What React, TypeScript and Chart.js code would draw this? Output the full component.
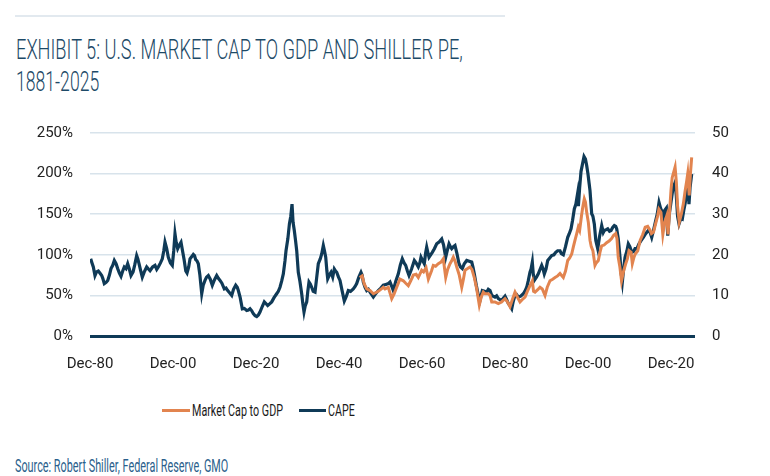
import React, { useEffect, useLayoutEffect, useRef, useState } from "react";
import { Chart, registerables } from "chart.js";

Chart.register(...registerables);

// ---- DATA ----
const xTickYears = [1880.92, 1900.92, 1920.92, 1940.92, 1960.92, 1980.92, 2000.92, 2020.92];
const xTickLabels = ["Dec-80", "Dec-00", "Dec-20", "Dec-40", "Dec-60", "Dec-80", "Dec-00", "Dec-20"];

const capeYears = [
  1881.08, 1881.4, 1881.72, 1882.12, 1882.5, 1882.92, 1883.3, 1883.74, 1884.0, 1884.37, 1884.8, 1885.19, 1885.6, 1885.98,
  1886.4, 1886.78, 1887.2, 1887.59, 1888.0, 1888.39, 1888.8, 1889.18, 1889.6, 1890.0, 1890.4, 1890.8, 1891.3, 1891.7,
  1892.17, 1892.45, 1892.73, 1893.1, 1893.52, 1894.0, 1894.58, 1895.0, 1895.38, 1896.0, 1896.58, 1897.0, 1897.38, 1897.9,
  1898.34, 1898.7, 1898.99, 1899.4, 1899.79, 1900.3, 1900.75, 1901.1, 1901.4, 1901.7, 1902.05, 1902.5, 1902.85, 1903.3,
  1903.6, 1904.0, 1904.3, 1904.7, 1905.02, 1905.4, 1905.81, 1906.1, 1906.39, 1906.7, 1907.02, 1907.4, 1907.84, 1908.2,
  1908.63, 1909.0, 1909.43, 1909.9, 1910.39, 1910.9, 1911.45, 1911.85, 1912.25, 1912.7, 1913.28, 1913.7, 1914.1, 1914.6,
  1915.07, 1915.5, 1916.03, 1916.4, 1916.66, 1917.1, 1917.62, 1918.1, 1918.68, 1919.1, 1919.48, 1919.9, 1920.27, 1920.7,
  1921.09, 1921.5, 1921.88, 1922.4, 1922.92, 1923.3, 1923.74, 1924.2, 1924.7, 1925.3, 1925.9, 1926.3, 1926.7, 1927.1,
  1927.5, 1927.9, 1928.15, 1928.6, 1928.97, 1929.3, 1929.6, 1929.85, 1930.15, 1930.45, 1930.73, 1931.11, 1931.5, 1931.93,
  1932.2, 1932.49, 1932.8, 1933.14, 1933.4, 1933.69, 1934.0, 1934.34, 1934.7, 1935.14, 1935.5, 1935.93, 1936.4, 1936.75,
  1937.14, 1937.42, 1937.72, 1938.0, 1938.2, 1938.6, 1939.0, 1939.4, 1939.79, 1940.1, 1940.37, 1940.8, 1941.16, 1941.7,
  1942.2, 1942.7, 1943.16, 1943.7, 1944.36, 1944.8, 1945.18, 1945.7, 1946.22, 1946.5, 1946.78, 1947.2, 1947.6, 1948.0,
  1948.39, 1948.8, 1949.19, 1949.8, 1950.39, 1951.0, 1951.59, 1952.2, 1952.8, 1953.21, 1953.6, 1954.0, 1954.6, 1955.21,
  1955.7, 1956.17, 1956.6, 1956.99, 1957.4, 1957.79, 1958.4, 1959.07, 1959.5, 1960.03, 1960.4, 1960.68, 1961.1, 1961.47,
  1961.8, 1962.05, 1962.35, 1962.61, 1963.0, 1963.4, 1963.9, 1964.46, 1965.1, 1965.67, 1966.1, 1966.63, 1967.0, 1967.43,
  1967.75, 1968.08, 1968.5, 1968.87, 1969.3, 1969.84, 1970.2, 1970.63, 1971.1, 1971.69, 1972.3, 1972.9, 1973.2, 1973.52,
  1974.0, 1974.49, 1974.9, 1975.45, 1976.0, 1976.51, 1976.9, 1977.31, 1977.72, 1978.1, 1978.51, 1978.9, 1979.31, 1979.7,
  1980.13, 1980.5, 1980.92, 1981.3, 1981.72, 1982.1, 1982.54, 1982.9, 1983.33, 1983.7, 1984.13, 1984.7, 1985.33, 1985.7,
  1986.15, 1986.5, 1986.94, 1987.2, 1987.5, 1987.75, 1987.98, 1988.5, 1988.94, 1989.4, 1989.76, 1990.1, 1990.39, 1990.8,
  1991.21, 1991.7, 1992.17, 1992.7, 1993.14, 1993.6, 1994.17, 1994.5, 1994.97, 1995.5, 1996.03, 1996.4, 1996.83, 1997.2,
  1997.62, 1998.0, 1998.4, 1998.6, 1998.9, 1999.23, 1999.6, 1999.96, 2000.3, 2000.6, 2000.9, 2001.2, 2001.4, 2001.81,
  2002.1, 2002.44, 2002.8, 2003.26, 2003.7, 2004.22, 2004.6, 2004.85, 2005.3, 2005.67, 2006.1, 2006.46, 2006.9, 2007.26,
  2007.6, 2007.84, 2008.2, 2008.63, 2008.9, 2009.19, 2009.5, 2009.84, 2010.3, 2010.63, 2011.0, 2011.45, 2011.9, 2012.25,
  2012.7, 2013.21, 2013.7, 2014.25, 2014.8, 2015.45, 2015.9, 2016.27, 2016.7, 2017.23, 2017.6, 2018.03, 2018.4, 2018.68,
  2018.95, 2019.31, 2019.8, 2020.13, 2020.5, 2020.92, 2021.4, 2021.89, 2022.2, 2022.5, 2022.85, 2023.3, 2023.64, 2024.0,
  2024.3, 2024.6, 2024.94, 2025.1, 2025.25, 2025.5, 2025.9,
];
const capeValues = [
  19.0, 18.0, 17.0, 14.9, 15.8, 16.0, 15.5, 14.9, 14.2, 12.9, 13.2, 13.7, 15.0, 16.6,
  17.4, 18.6, 17.8, 16.6, 15.5, 14.7, 16.0, 17.0, 16.6, 17.8, 16.5, 14.9, 15.8, 17.5,
  19.8, 19.0, 17.8, 16.2, 14.5, 15.8, 17.0, 16.5, 16.1, 17.0, 17.4, 16.4, 17.0, 18.0,
  19.0, 21.0, 23.1, 21.5, 19.4, 18.0, 17.4, 21.0, 25.2, 23.0, 21.5, 22.5, 23.1, 20.5,
  18.8, 16.0, 15.5, 17.0, 19.0, 19.5, 20.1, 19.8, 18.8, 18.5, 17.8, 15.0, 10.4, 12.5,
  13.7, 14.5, 14.9, 14.0, 12.5, 13.8, 14.9, 14.2, 13.7, 13.0, 11.6, 11.8, 11.2, 10.6,
  10.0, 11.5, 12.5, 12.0, 11.2, 9.5, 6.7, 6.8, 6.3, 6.4, 6.7, 6.2, 5.5, 5.0,
  4.8, 5.2, 5.9, 7.2, 8.4, 8.0, 7.5, 7.9, 8.4, 9.5, 10.4, 11.0, 12.0, 13.5,
  15.3, 18.5, 21.0, 24.0, 27.6, 29.5, 32.5, 28.0, 26.0, 23.5, 21.0, 15.7, 13.5, 10.4,
  8.0, 5.9, 7.5, 8.4, 11.0, 13.3, 12.8, 12.0, 11.0, 10.8, 14.0, 17.8, 19.0, 20.2,
  22.3, 21.0, 19.4, 16.0, 14.1, 15.0, 15.7, 14.5, 16.5, 16.0, 15.7, 14.5, 13.7, 11.0,
  8.6, 9.8, 11.2, 11.0, 11.6, 12.2, 12.9, 14.5, 15.7, 15.0, 13.3, 12.0, 11.2, 11.5,
  10.8, 10.2, 9.6, 10.5, 11.2, 11.8, 12.5, 12.7, 12.9, 13.3, 12.3, 11.2, 13.5, 15.3,
  17.5, 19.0, 18.0, 17.4, 16.0, 14.9, 16.5, 18.6, 18.0, 17.0, 18.0, 19.4, 18.5, 17.8,
  20.5, 21.9, 20.5, 19.4, 20.0, 20.6, 21.5, 22.7, 23.2, 23.9, 22.5, 19.4, 21.0, 22.7,
  22.0, 21.5, 22.0, 22.3, 20.5, 17.8, 17.0, 16.6, 17.8, 18.6, 18.4, 18.2, 17.0, 15.3,
  12.5, 10.0, 8.8, 11.2, 11.0, 10.8, 11.5, 11.2, 10.0, 9.8, 9.6, 9.9, 9.2, 9.0,
  8.8, 9.3, 9.8, 9.0, 8.0, 7.5, 6.7, 8.5, 10.0, 10.2, 9.6, 9.8, 10.4, 11.0,
  12.0, 13.5, 15.7, 16.5, 18.2, 15.0, 13.7, 14.5, 15.3, 16.5, 17.4, 16.5, 15.3, 16.5,
  18.6, 19.2, 19.8, 20.0, 20.6, 21.0, 21.0, 20.3, 20.0, 22.0, 24.3, 25.2, 26.4, 28.5,
  31.3, 32.5, 35.0, 32.0, 36.5, 40.5, 42.4, 44.2, 43.6, 42.0, 40.0, 37.5, 35.8, 30.1,
  29.5, 27.6, 23.5, 21.5, 24.5, 27.2, 25.5, 26.0, 26.2, 26.4, 25.8, 26.0, 26.8, 27.2,
  27.0, 26.4, 24.0, 19.4, 15.5, 13.3, 16.5, 19.4, 21.0, 22.7, 22.0, 20.6, 20.8, 21.5,
  21.5, 22.7, 23.5, 24.3, 25.2, 26.0, 25.5, 24.3, 26.0, 28.4, 30.0, 32.9, 31.5, 30.8,
  28.5, 30.8, 31.5, 24.7, 30.0, 33.0, 36.5, 37.8, 34.5, 29.5, 27.6, 29.0, 28.8, 31.0,
  32.5, 34.5, 37.0, 35.5, 32.5, 36.5, 39.9,
];

const mcapYears = [
  1945.92, 1946.5, 1947.0, 1947.6, 1948.4, 1949.2, 1950.4, 1951.6, 1952.0, 1952.8, 1953.62, 1954.2, 1954.82, 1955.6,
  1956.42, 1957.0, 1957.62, 1958.2, 1958.83, 1959.5, 1960.03, 1960.85, 1961.3, 1961.9, 1962.45, 1963.2, 1963.64, 1964.2,
  1964.85, 1965.5, 1966.05, 1966.63, 1967.1, 1967.67, 1968.1, 1968.47, 1968.9, 1969.29, 1969.9, 1970.49, 1970.9, 1971.28,
  1971.9, 1972.49, 1972.95, 1973.52, 1974.1, 1974.73, 1975.2, 1975.7, 1976.1, 1976.9, 1977.3, 1977.72, 1978.5, 1979.31,
  1980.1, 1980.92, 1981.5, 1982.12, 1982.7, 1983.33, 1983.9, 1984.53, 1985.1, 1985.74, 1986.3, 1986.94, 1987.5, 1987.8,
  1988.15, 1988.8, 1989.35, 1989.9, 1990.56, 1991.1, 1991.76, 1992.4, 1992.97, 1993.6, 1994.17, 1994.97, 1995.5, 1996.03,
  1996.5, 1996.99, 1997.4, 1997.79, 1998.2, 1998.58, 1998.9, 1999.4, 1999.7, 2000.03, 2000.3, 2000.61, 2001.0, 2001.4,
  2001.7, 2002.1, 2002.6, 2002.9, 2003.4, 2003.8, 2004.2, 2004.8, 2005.4, 2006.0, 2006.6, 2007.1, 2007.6, 2007.9,
  2008.2, 2008.6, 2009.0, 2009.5, 2010.0, 2010.4, 2010.8, 2011.3, 2011.6, 2012.0, 2012.3, 2012.9, 2013.5, 2014.1,
  2014.7, 2015.3, 2015.9, 2016.2, 2016.7, 2017.2, 2017.7, 2018.0, 2018.5, 2018.95, 2019.4, 2019.9, 2020.2, 2020.6,
  2020.92, 2021.2, 2021.9, 2022.2, 2022.5, 2022.9, 2023.4, 2023.9, 2024.3, 2024.7, 2024.95, 2025.3, 2025.6, 2025.9,
];
const mcapValues = [
  72, 74, 64, 58, 56, 52, 55, 60, 58, 60, 46, 52, 60, 70,
  68, 65, 62, 68, 75, 76, 72, 81, 79, 84, 70, 80, 87, 86,
  89, 91, 95, 72, 82, 89, 93, 97, 92, 85, 75, 60, 70, 81,
  83, 85, 82, 72, 58, 38, 48, 54, 52, 52, 50, 42, 42, 40,
  42, 46, 42, 36, 45, 54, 48, 42, 45, 48, 55, 62, 68, 55,
  54, 57, 60, 58, 50, 60, 68, 70, 72, 74, 77, 72, 80, 93,
  96, 101, 110, 118, 126, 134, 130, 150, 160, 169, 165, 152, 140, 118,
  110, 105, 87, 90, 93, 103, 111, 112, 115, 117, 120, 124, 126, 120,
  97, 85, 68, 80, 89, 95, 105, 103, 89, 97, 101, 105, 118, 125,
  134, 135, 130, 126, 128, 138, 148, 156, 152, 125, 140, 148, 125, 155,
  180, 195, 208, 190, 160, 140, 150, 163, 178, 191, 200, 173, 200, 220,
];

const legendItems = [
  { label: "Market Cap to GDP", color: "#e2844f" },
  { label: "CAPE", color: "#0f3a57" },
];

const ORANGE = "#e2844f";
const NAVY = "#0f3a57";

function FitText(props: { text: string; width: number; style: React.CSSProperties }) {
  const ref = useRef<HTMLSpanElement>(null);
  const [scale, setScale] = useState(1);
  useLayoutEffect(() => {
    const measure = () => {
      const el = ref.current;
      if (el && el.offsetWidth > 0) setScale(props.width / el.offsetWidth);
    };
    measure();
    if ((document as any).fonts && (document as any).fonts.ready) {
      (document as any).fonts.ready.then(measure);
    }
  }, [props.text, props.width]);
  return (
    <span
      ref={ref}
      style={{
        position: "absolute",
        display: "inline-block",
        whiteSpace: "nowrap",
        transform: `scaleX(${scale})`,
        transformOrigin: "left center",
        ...props.style,
      }}
    >
      {props.text}
    </span>
  );
}

export default function App() {
  const canvasRef = useRef<HTMLCanvasElement>(null);

  useEffect(() => {
    document.body.style.margin = "0";
    const ctx = canvasRef.current!.getContext("2d")!;
    const tickFont = { family: "Roboto", size: 15 };
    const chart = new Chart(ctx, {
      type: "line",
      data: {
        datasets: [
          {
            label: "Market Cap to GDP",
            data: mcapYears.map((x, i) => ({ x, y: mcapValues[i] })),
            yAxisID: "yL",
            borderColor: ORANGE,
            borderWidth: 3,
            pointRadius: 0,
            tension: 0,
            fill: false,
          },
          {
            label: "CAPE",
            data: capeYears.map((x, i) => ({ x, y: capeValues[i] })),
            yAxisID: "yR",
            borderColor: NAVY,
            borderWidth: 3.2,
            pointRadius: 0,
            tension: 0,
            fill: false,
          },
        ],
      },
      options: {
        animation: false,
        responsive: false,
        maintainAspectRatio: false,
        layout: { padding: { top: 12, left: 0, right: 0, bottom: 0 } },
        plugins: { legend: { display: false }, tooltip: { enabled: false } },
        scales: {
          x: {
            type: "linear",
            min: 1880.92,
            max: 2026.7,
            grid: { display: false },
            border: { display: false },
            afterBuildTicks: (scale: any) => {
              scale.ticks = xTickYears.map((v) => ({ value: v }));
            },
            afterFit: (scale: any) => {
              scale.height = 34;
            },
            ticks: {
              autoSkip: false,
              maxRotation: 0,
              padding: 11,
              color: "#222",
              font: tickFont,
              callback: (_v: any, i: number) => xTickLabels[i],
            },
          },
          yL: {
            type: "linear",
            position: "left",
            min: 0,
            max: 250,
            border: { display: false },
            grid: {
              drawTicks: false,
              color: (c: any) => (c.tick && c.tick.value === 0 ? NAVY : "#d8e3eb"),
              lineWidth: (c: any) => (c.tick && c.tick.value === 0 ? 3 : 1.5),
            },
            afterFit: (scale: any) => {
              scale.width = 90;
            },
            ticks: {
              stepSize: 50,
              padding: 17,
              color: "#222",
              font: tickFont,
              callback: (v: any) => v + "%",
            },
          },
          yR: {
            type: "linear",
            position: "right",
            min: 0,
            max: 50,
            border: { display: false },
            grid: { display: false, drawTicks: false },
            afterFit: (scale: any) => {
              scale.width = 75;
            },
            ticks: {
              stepSize: 10,
              padding: 17,
              color: "#222",
              font: tickFont,
            },
          },
        },
      },
    } as any);
    return () => chart.destroy();
  }, []);

  const titleStyle: React.CSSProperties = {
    fontFamily: "Roboto",
    fontWeight: 300,
    fontSize: "28px",
    lineHeight: "28px",
    color: "#1d4a67",
    left: "16px",
  };
  const legendText: React.CSSProperties = {
    fontFamily: "Roboto",
    fontSize: "17px",
    lineHeight: "17px",
    color: "#1a1a1a",
    top: "401.5px",
  };

  return (
    <div style={{ position: "absolute", left: 0, top: 0, width: 770, height: 476, background: "#fff", overflow: "hidden" }}>
      <div style={{ position: "absolute", left: 15, top: 15, width: 490, height: 2, background: "#e2e9ef" }} />
      <FitText text="EXHIBIT 5: U.S. MARKET CAP TO GDP AND SHILLER PE," width={447} style={{ ...titleStyle, top: "35.7px" }} />
      <FitText text="1881-2025" width={83} style={{ ...titleStyle, top: "68px" }} />
      <canvas ref={canvasRef} width={770} height={263} style={{ position: "absolute", left: 0, top: 107, width: 770, height: 263 }} />
      <div style={{ position: "absolute", left: 162, top: 409, width: 28, height: 3, background: legendItems[0].color }} />
      <FitText text={legendItems[0].label} width={91} style={{ ...legendText, left: "192px" }} />
      <div style={{ position: "absolute", left: 299, top: 409, width: 27, height: 3, background: legendItems[1].color }} />
      <FitText text={legendItems[1].label} width={27} style={{ ...legendText, left: "328px" }} />
      <FitText
        text="Source: Robert Shiller, Federal Reserve, GMO"
        width={213}
        style={{ fontFamily: "Roboto", fontSize: "18px", lineHeight: "18px", color: "#2b5f8c", left: "15px", top: "456.5px" }}
      />
    </div>
  );
}
